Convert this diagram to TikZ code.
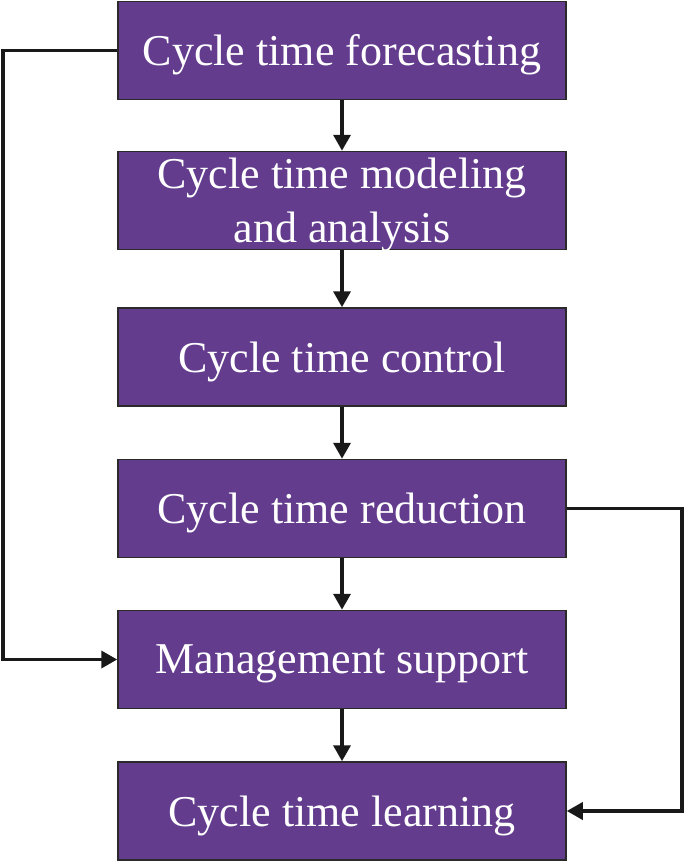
\documentclass[tikz,border=0pt]{standalone}
\usepackage{fontspec}
\setmainfont{Liberation Serif}
\usetikzlibrary{arrows.meta}
\definecolor{boxpurple}{HTML}{633C8E}
\definecolor{boxedge}{HTML}{2A2A2A}
\begin{document}
\begin{tikzpicture}[x=1pt,y=-1pt,
  stagebox/.style={draw=boxedge,line width=1.5pt,fill=boxpurple,text=white,
    minimum width=448pt,minimum height=98pt,inner sep=0pt,align=center,
    text depth=0pt,font=\fontsize{44}{54}\selectfont},
  conn/.style={draw=black!90,line width=3.6pt,-{Triangle[width=17pt,length=16pt]}}]
\useasboundingbox (0,0) rectangle (685,864);
\node[stagebox] (a) at (342,50.5) {Cycle time forecasting};
\node[stagebox] (b) at (342,200.5) {Cycle time modeling\\and analysis};
\node[stagebox] (c) at (342,357) {Cycle time control};
\node[stagebox] (d) at (342,508.5) {Cycle time reduction};
\node[stagebox] (e) at (342,659.5) {Management support};
\node[stagebox] (f) at (342,811) {Cycle time learning};
\draw[conn] (a) -- (b);
\draw[conn] (b) -- (c);
\draw[conn] (c) -- (d);
\draw[conn] (d) -- (e);
\draw[conn] (e) -- (f);
\coordinate (l1) at (3,50.5);
\coordinate (l2) at (3,659.5);
\coordinate (r1) at (682,508.5);
\coordinate (r2) at (682,811);
\draw[conn] (a.west) -- (l1) -- (l2) -- (e.west);
\draw[conn] (d.east) -- (r1) -- (r2) -- (f.east);
\end{tikzpicture}
\end{document}
